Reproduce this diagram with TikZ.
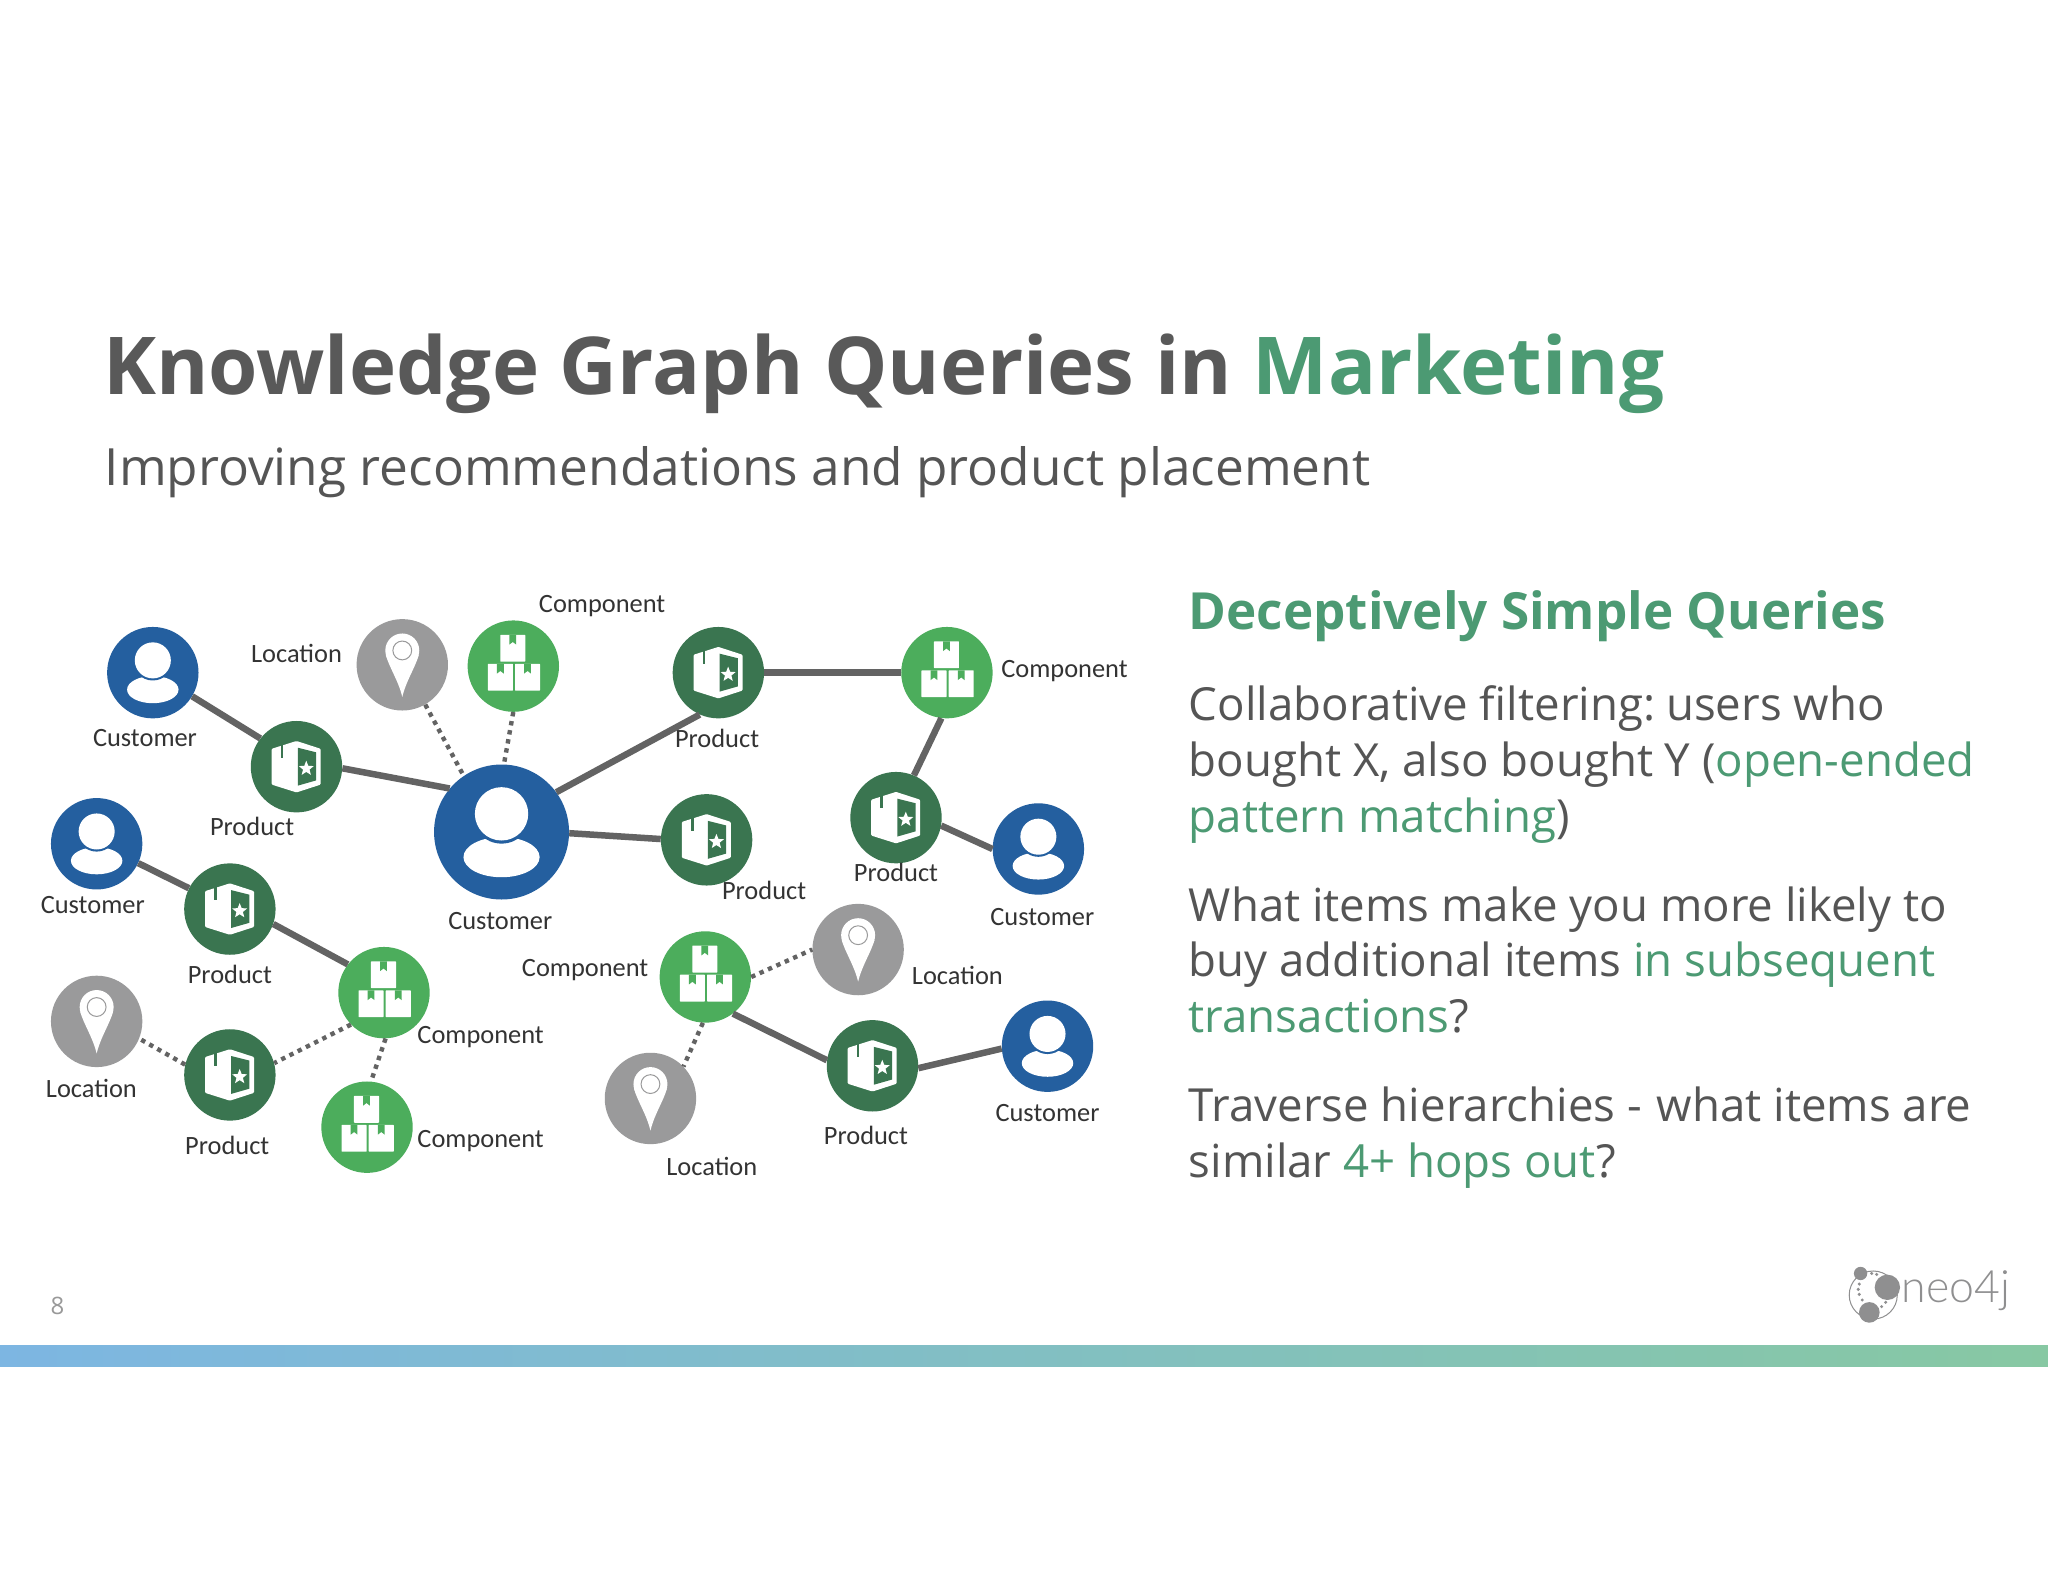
\documentclass[tikz,border=0pt]{standalone}
\usepackage{fontspec}
\setmainfont{Open Sans}
\newfontfamily\lblfont{Carlito}
\newfontfamily\neofont{Lato}[UprightFont=* Light]
\usetikzlibrary{calc}
\definecolor{custblue}{HTML}{245F9F}
\definecolor{prodgreen}{HTML}{3A7550}
\definecolor{compgreen}{HTML}{4CAD5C}
\definecolor{locgray}{HTML}{9A9A9B}
\definecolor{edgegray}{HTML}{636363}
\definecolor{titlegray}{HTML}{595959}
\definecolor{bodygray}{HTML}{555555}
\definecolor{accent}{HTML}{4C9A73}
\definecolor{logogray}{HTML}{8F8F90}
\definecolor{barleft}{HTML}{7DB6E2}
\definecolor{barright}{HTML}{87C8A3}
\tikzset{
  gcircle/.style={circle,inner sep=0pt,minimum size=91.4pt},
  bigcircle/.style={circle,inner sep=0pt,minimum size=135pt},
  cust/.style={gcircle,fill=custblue},
  prod/.style={gcircle,fill=prodgreen},
  comp/.style={gcircle,fill=compgreen},
  loc/.style={gcircle,fill=locgray},
  lbl/.style={font=\lblfont\fontsize{26.4}{30}\selectfont,text=black!80,inner sep=0pt},
  solidedge/.style={draw=edgegray,line width=6.5pt},
  dotedge/.style={draw=edgegray,line width=4.4pt,dash pattern=on 4.4pt off 4.8pt},
  titletext/.style={anchor=base west,inner sep=0pt,font=\fontsize{79.8}{90}\selectfont\bfseries,text=titlegray},
  subtext/.style={anchor=base west,inner sep=0pt,font=\fontsize{51.36}{60}\selectfont,text=bodygray},
  headtext/.style={anchor=base west,inner sep=0pt,font=\fontsize{51.2}{56}\selectfont\bfseries,text=accent},
  bodytext/.style={anchor=base west,inner sep=0pt,font=\fontsize{45.6}{54}\selectfont,text=bodygray},
  customer/.pic={
    \fill[white] (0,13) ellipse (19.7 and 10.4);
    \fill[custblue] (0,-9.4) circle (15.4);
    \fill[white] (0,-9.4) circle (13.8);
  },
  component/.pic={
    \foreach \bx/\by in {-10/-24,-19.5/-1.8,1.3/-1.8}{
      \fill[white,rounded corners=0.6] (\bx,\by) rectangle ++(19.2,20.6);
      \fill[compgreen] (\bx+7,\by) -- ++(0,7.5) -- ++(2.6,-2) -- ++(2.6,2) -- ++(0,-7.5) -- cycle;
    }
  },
  product/.pic={
    \fill[white,rounded corners=1] (-19,-13.7) -- (0,-19.7) -- (18.5,-13.7) -- (18.5,13.7) -- (0,19.7) -- (-19,13.7) -- cycle;
    \fill[prodgreen] (1,-14.5) -- (15,-11) -- (15,10.5) -- (1,14.5) -- cycle;
    \fill[prodgreen] (-12,-17.5) rectangle (-10,-7);
    \fill[white] ($(-90:6)+(7.5,1.4)$) -- ($(-54:2.6)+(7.5,1.4)$) -- ($(-18:6)+(7.5,1.4)$) -- ($(18:2.6)+(7.5,1.4)$) -- ($(54:6)+(7.5,1.4)$) -- ($(90:2.6)+(7.5,1.4)$) -- ($(126:6)+(7.5,1.4)$) -- ($(162:2.6)+(7.5,1.4)$) -- ($(198:6)+(7.5,1.4)$) -- ($(234:2.6)+(7.5,1.4)$) -- cycle;
  },
  pin/.pic={
    \fill[white] (0,-11) circle (13);
    \fill[white] (-12.6,-7.5) .. controls (-10,2) and (-3,12) .. (0,24.6) .. controls (3,12) and (10,2) .. (12.6,-7.5) -- cycle;
    \draw[locgray,line width=1pt,fill=white] (0,-11) circle (7.2);
  }
}
\begin{document}
\begin{tikzpicture}[x=1.30612pt,y=-1.30612pt]
\path[use as bounding box,fill=white] (0,0) rectangle (1568,1211.23);

% title block
\node[titletext] (t1) at (79,302) {Knowledge Graph Queries in \textcolor{accent}{Marketing}};
\node[subtext] (t2) at (80,372) {Improving recommendations and product placement};

% right text
\node[headtext] (h1) at (910,482) {Deceptively Simple Queries};
\node[bodytext] (b1) at (910,552) {Collaborative filtering:\kern-5pt{} users who};
\node[bodytext] (b2) at (910,594.5) {bought X, also bought Y (\textcolor{accent}{open-ended}};
\node[bodytext] (b3) at (910,637) {\textcolor{accent}{pattern matching})};
\node[bodytext] (b4) at (910,705.5) {What items make you more likely to};
\node[bodytext] (b5) at (910,748) {buy additional items \textcolor{accent}{in subsequent}};
\node[bodytext] (b6) at (910,790.5) {\textcolor{accent}{transactions}?};
\node[bodytext] (b7) at (910,859) {Traverse hierarchies -\kern3pt{} what items are};
\node[bodytext] (b8) at (910,901.5) {similar \textcolor{accent}{4+ hops out}?};

% graph nodes
\node[cust] (c1) at (117,515) {};
\node[prod] (p1) at (227,587) {};
\node[loc]  (l1) at (308,509) {};
\node[comp] (m1) at (393,510) {};
\node[bigcircle,fill=custblue] (c0) at (384,637) {};
\node[prod] (p2) at (550,515) {};
\node[comp] (m2) at (725,515) {};
\node[prod] (p3) at (541,643) {};
\node[prod] (p4) at (686,626) {};
\node[cust] (c3) at (795,650) {};
\node[cust] (c2) at (74,646) {};
\node[prod] (p5) at (176,696) {};
\node[comp] (m3) at (294,760) {};
\node[loc]  (l2) at (74,782) {};
\node[prod] (p6) at (176,823) {};
\node[comp] (m4) at (281,863) {};
\node[comp] (m5) at (540,748) {};
\node[loc]  (l3) at (657,727) {};
\node[loc]  (l4) at (498,841) {};
\node[prod] (p7) at (668,816) {};
\node[cust] (c4) at (802,801) {};

% connectors
\foreach \a/\ra/\b/\rb in {c1/-31/p1/142,p1/-2/c0/140,c0/36/p2/-114,c0/-1/p3/179,p2/0/m2/180,m2/-97/p4/67,p4/-10/c3/180,c2/-25/p5/153,p5/-19/m3/142,m5/-53/p7/173,p7/-3/c4/183}
  \draw[solidedge] (\a.\ra) -- (\b.\rb);
\foreach \a/\ra/\b/\rb in {l1/-60/c0/124,m1/-90/c0/88,m3/224/p6/15,p6/167/l2/-22,m3/-88/m4/85,m5/0/l3/180,m5/-93/l4/44}
  \draw[dotedge] (\a.\ra) -- (\b.\rb);

% icons
\foreach \n in {c1,c2,c3,c4} \path (\n.center) pic {customer};
\path (c0.center) pic[scale=1.48] {customer};
\foreach \n in {p1,p2,p3,p4,p5,p6,p7} \path (\n.center) pic {product};
\foreach \n in {m1,m2,m3,m4,m5} \path (\n.center) pic {component};
\foreach \n in {l1,l2,l3,l4} \path (\n.center) pic {pin};

% graph labels
\node[lbl] (lb1) at (111,565) {Customer};
\node[lbl] (lb2) at (227,500) {Location};
\node[lbl] (lb3) at (461,464) {Component};
\node[lbl] (lb4) at (549,565) {Product};
\node[lbl] (lb5) at (815,514) {Component};
\node[lbl] (lb6) at (193,633) {Product};
\node[lbl] (lb7) at (71,693) {Customer};
\node[lbl] (lb8) at (383,705) {Customer};
\node[lbl] (lb9) at (585,682) {Product};
\node[lbl] (lb10) at (686,668) {Product};
\node[lbl] (lb11) at (798,702) {Customer};
\node[lbl] (lb12) at (176,746) {Product};
\node[lbl] (lb13) at (448,743) {Component};
\node[lbl] (lb14) at (733,747) {Location};
\node[lbl] (lb15) at (368,794) {Component};
\node[lbl] (lb16) at (70,833) {Location};
\node[lbl] (lb17) at (174,877) {Product};
\node[lbl] (lb18) at (368,874) {Component};
\node[lbl] (lb19) at (663,869) {Product};
\node[lbl] (lb20) at (802,852) {Customer};
\node[lbl] (lb21) at (545,893) {Location};

% footer
\node[inner sep=0pt,font=\fontsize{24}{28}\selectfont,text=black!40] (pg) at (44,1000) {8};
\shade[left color=barleft,right color=barright] (0,1030) rectangle (1568,1046);

% logo
\draw[logogray,line width=1pt] (1434.2,991.5) circle (18.4);
\fill[logogray] (1445,985.6) circle (9.7);
\fill[logogray] (1424.5,975) circle (5.1);
\fill[logogray] (1431.2,1004.8) circle (7.9);
\foreach \dx/\dy in {1433/975,1436.8/975.7,1423.5/983.1,1422.7/987.2,1423.5/991,1425.8/995.3,1440.6/1000.4,1443.7/997.1}
  \fill[logogray] (\dx,\dy) circle (1.3);
\node[anchor=base west,inner sep=0pt,font=\neofont\fontsize{44.6}{50}\selectfont,text=logogray] (neo) at (1456,997) {neo4j};
\end{tikzpicture}
\end{document}
